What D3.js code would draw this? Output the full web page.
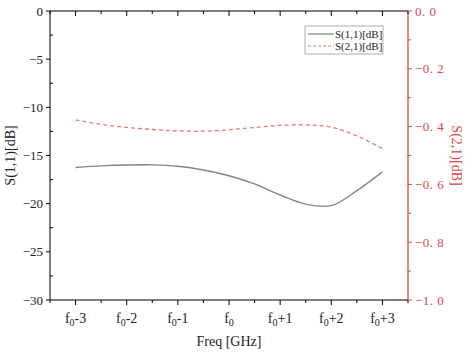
<!DOCTYPE html>
<html>
<head>
<meta charset="utf-8">
<script src="https://cdn.jsdelivr.net/npm/d3@7"></script>
<style>
  body { margin: 0; background: #fff; }
</style>
</head>
<body>
<svg id="chart" width="474" height="354" font-family="'Times New Roman', 'Liberation Serif', Times, serif"></svg>
<script>
// frequency offsets from f0 (GHz)
var freq = [-3, -2.5, -2, -1.5, -1, -0.5, 0, 0.5, 1, 1.5, 2, 2.5, 3];
var s11 = [-16.25, -16.08, -15.99, -15.97, -16.12, -16.5, -17.1, -17.95, -19.1, -20.05, -20.2, -18.65, -16.7];
var s21 = [-0.377, -0.392, -0.403, -0.410, -0.415, -0.416, -0.411, -0.403, -0.396, -0.394, -0.402, -0.432, -0.476];
var xTicks = [-3, -2, -1, 0, 1, 2, 3];
var xTickLabels = ["-3", "-2", "-1", "", "+1", "+2", "+3"];
var leftTicks = [0, -5, -10, -15, -20, -25, -30];
var rightTicks = [0, -0.2, -0.4, -0.6, -0.8, -1.0];

var L = 50, R = 408, T = 11, B = 300;
var red = "#d9474a";
var svg = d3.select("#chart");

var x = d3.scaleLinear().domain([-3.5, 3.5]).range([L, R]);
var yL = d3.scaleLinear().domain([-30, 0]).range([B, T]);
var yR = d3.scaleLinear().domain([-1, 0]).range([B, T]);

// frame lines
svg.append("line").attr("x1", L).attr("x2", R).attr("y1", T).attr("y2", T).attr("stroke", "#000");
svg.append("line").attr("x1", L).attr("x2", R).attr("y1", B).attr("y2", B).attr("stroke", "#000");
svg.append("line").attr("x1", L).attr("x2", L).attr("y1", T).attr("y2", B).attr("stroke", "#000");
svg.append("line").attr("x1", R).attr("x2", R).attr("y1", T).attr("y2", B).attr("stroke", red).attr("stroke-width", 1.3);

var minorX = d3.range(-3.5, 3.51, 0.5).filter(function(d){ return xTicks.indexOf(d) < 0; });

// bottom ticks
var gb = svg.append("g");
gb.selectAll(".maj").data(xTicks).enter().append("line")
  .attr("x1", x).attr("x2", x).attr("y1", B).attr("y2", B + 5).attr("stroke", "#000");
gb.selectAll(".min").data(minorX).enter().append("line")
  .attr("x1", x).attr("x2", x).attr("y1", B).attr("y2", B + 3).attr("stroke", "#000");
// top ticks (inward)
gb.selectAll(".tmaj").data(xTicks).enter().append("line")
  .attr("x1", x).attr("x2", x).attr("y1", T).attr("y2", T + 5).attr("stroke", "#000");
gb.selectAll(".tmin").data(minorX).enter().append("line")
  .attr("x1", x).attr("x2", x).attr("y1", T).attr("y2", T + 3).attr("stroke", "#000");

// x labels f0 with subscript
var xl = gb.selectAll(".lab").data(xTicks).enter().append("text")
  .attr("x", function(d){ return x(d); }).attr("y", 323)
  .attr("text-anchor", "middle").attr("font-size", 14).attr("fill", "#222");
xl.append("tspan").text("f");
xl.append("tspan").attr("font-size", 10).attr("dy", 3).text("0");
xl.append("tspan").attr("dy", -3).text(function(d, i){ return xTickLabels[i]; });

svg.append("text").attr("x", x(0)).attr("y", 346).attr("text-anchor", "middle")
  .attr("font-size", 14).attr("fill", "#222").text("Freq [GHz]");

// left axis
var gl = svg.append("g");
gl.selectAll(".maj").data(leftTicks).enter().append("line")
  .attr("x1", L - 4).attr("x2", L).attr("y1", yL).attr("y2", yL).attr("stroke", "#000");
gl.selectAll(".min").data(d3.range(-27.5, 0, 5)).enter().append("line")
  .attr("x1", L).attr("x2", L + 3).attr("y1", yL).attr("y2", yL).attr("stroke", "#000");
gl.selectAll(".lab").data(leftTicks).enter().append("text")
  .attr("x", L - 7).attr("y", function(d){ return yL(d) + 4.5; })
  .attr("text-anchor", "end").attr("font-size", 13).attr("fill", "#222")
  .text(function(d){ return d === 0 ? "0" : "\u2212" + Math.abs(d); });
svg.append("text").attr("transform", "translate(15," + ((T + B) / 2) + ") rotate(-90)")
  .attr("text-anchor", "middle").attr("font-size", 14).attr("fill", "#222").text("S(1,1)[dB]");

// right axis
var gr = svg.append("g");
gr.selectAll(".maj").data(rightTicks).enter().append("line")
  .attr("x1", R).attr("x2", R + 4).attr("y1", yR).attr("y2", yR).attr("stroke", red);
gr.selectAll(".min").data(d3.range(-0.9, 0, 0.2)).enter().append("line")
  .attr("x1", R).attr("x2", R + 3).attr("y1", yR).attr("y2", yR).attr("stroke", red);
gr.selectAll(".lab").data(rightTicks).enter().append("text")
  .attr("x", R + 7).attr("y", function(d){ return yR(d) + 4.5; })
  .attr("font-size", 13).attr("fill", red).attr("letter-spacing", 0.5)
  .text(function(d){ return (d === 0 ? "" : "\u2212") + Math.abs(d).toFixed(1).replace(".", ". "); });
svg.append("text").attr("transform", "translate(452," + ((T + B) / 2) + ") rotate(90)")
  .attr("text-anchor", "middle").attr("font-size", 14).attr("fill", red).text("S(2,1)[dB]");

// curves
var line11 = d3.line().x(function(d, i){ return x(freq[i]); }).y(function(d){ return yL(d); }).curve(d3.curveCatmullRom);
var line21 = d3.line().x(function(d, i){ return x(freq[i]); }).y(function(d){ return yR(d); }).curve(d3.curveCatmullRom);
svg.append("path").datum(s11).attr("d", line11).attr("fill", "none")
  .attr("stroke", "#858585").attr("stroke-width", 1.4);
svg.append("path").datum(s21).attr("d", line21).attr("fill", "none")
  .attr("stroke", "#e07a80").attr("stroke-width", 1.3).attr("stroke-dasharray", "4,3");

// legend
var lg = svg.append("g");
lg.append("rect").attr("x", 305).attr("y", 26).attr("width", 78).attr("height", 28)
  .attr("fill", "#fff").attr("stroke", "#999").attr("stroke-width", 0.8);
lg.append("line").attr("x1", 308).attr("x2", 334).attr("y1", 34).attr("y2", 34)
  .attr("stroke", "#666").attr("stroke-width", 1);
lg.append("line").attr("x1", 308).attr("x2", 334).attr("y1", 46).attr("y2", 46)
  .attr("stroke", "#e07a80").attr("stroke-width", 1).attr("stroke-dasharray", "3,2");
lg.append("text").attr("x", 335).attr("y", 37.5).attr("font-size", 11).attr("fill", "#222").text("S(1,1)[dB]");
lg.append("text").attr("x", 335).attr("y", 49.5).attr("font-size", 11).attr("fill", "#222").text("S(2,1)[dB]");
</script>
</body>
</html>
